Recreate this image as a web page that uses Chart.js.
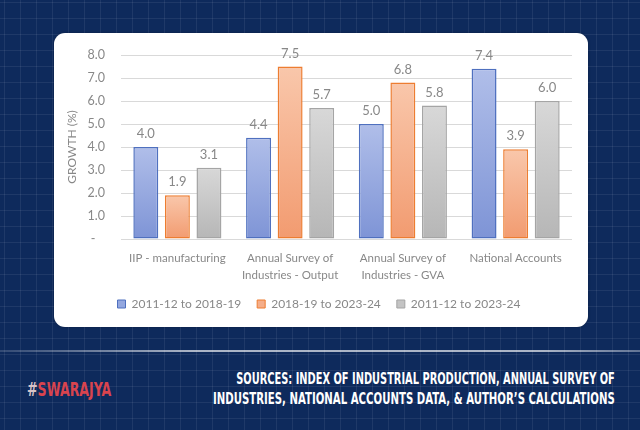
<!DOCTYPE html>
<html>
<head>
<meta charset="utf-8">
<script src="https://cdn.jsdelivr.net/npm/chart.js@4.4.1/dist/chart.umd.min.js"></script>
<style>
  html, body { margin: 0; padding: 0; }
  body { width: 640px; height: 430px; position: relative; overflow: hidden;
    background-color: #0e2a5c;
    background-image:
      linear-gradient(to right, rgba(255,255,255,0.07) 1px, transparent 1px),
      linear-gradient(to bottom, rgba(255,255,255,0.07) 1px, transparent 1px);
    background-size: 16px 16px;
    background-position: 4px 2px;
  }
  #card { position: absolute; left: 54px; top: 33px; width: 534px; height: 294px;
    background: #fff; border-radius: 11px; box-shadow: 0 0 3px rgba(0,0,0,0.3); }
  #rule { position: absolute; left: 0; top: 350px; width: 640px; height: 1.5px;
    background: linear-gradient(to right, rgba(255,255,255,0.15), rgba(255,255,255,0.65) 30%, rgba(255,255,255,0.65) 85%, rgba(255,255,255,0.35)); }
  #brand { position: absolute; left: 27px; top: 378px; font-family: "DejaVu Sans Condensed", "DejaVu Sans", sans-serif;
    font-weight: bold; font-size: 19px; line-height: 22px; color: #d9444e; white-space: nowrap; transform-origin: left center; }
  #brand .hash { color: #d8c3c7; }
  #src { position: absolute; right: 25px; top: 369px; font-family: "DejaVu Sans Condensed", "DejaVu Sans", sans-serif;
    font-weight: bold; font-size: 16px; line-height: 20px; color: #ffffff; text-align: right; }
  #src div { white-space: nowrap; transform-origin: right center; }
  canvas { position: absolute; left: 0; top: 0; }
</style>
</head>
<body>
<div id="card"></div>
<div id="rule"></div>
<div id="brand"><span class="hash">#</span>SWARAJYA</div>
<div id="src">
  <div id="l1">SOURCES: INDEX OF INDUSTRIAL PRODUCTION, ANNUAL SURVEY OF</div>
  <div id="l2">INDUSTRIES, NATIONAL ACCOUNTS DATA, &amp; AUTHOR’S CALCULATIONS</div>
</div>
<canvas id="c" width="640" height="430"></canvas>
<script>
// ---- data ----
const categories = [
  'IIP - manufacturing',
  ['Annual Survey of', 'Industries - Output'],
  ['Annual Survey of', 'Industries - GVA'],
  'National Accounts'
];
const seriesNames = ['2011-12 to 2018-19', '2018-19 to 2023-24', '2011-12 to 2023-24'];
const growth2011to2019 = [4.0, 4.4, 5.0, 7.4];
const growth2019to2024 = [1.9, 7.5, 6.8, 3.9];
const growth2011to2024 = [3.1, 5.7, 5.8, 6.0];
const yAxisTitle = 'GROWTH (%)';
const yMin = 0, yMax = 8, yStep = 1;

// ---- fit footer text widths ----
function fitWidth(el, target) {
  const w = el.scrollWidth;
  el.style.transform = 'scaleX(' + (target / w) + ')';
}
fitWidth(document.getElementById('l1'), 389);
fitWidth(document.getElementById('l2'), 402);
fitWidth(document.getElementById('brand'), 84);

// ---- styles ----
const FONT = 'Lato, "Open Sans", sans-serif';
const TEXT = '#888888';
const styles = [
  { top: '#b0bee9', bottom: '#7e94d6', border: '#4f70bf', legend: '#93a7df' },
  { top: '#f9c7ab', bottom: '#f29b70', border: '#ed7d31', legend: '#f5ae8a' },
  { top: '#d8d8d8', bottom: '#b6b6b6', border: '#a5a5a5', legend: '#c4c4c4' }
];
function grad(st) {
  return (ctx) => {
    const chart = ctx.chart;
    if (!chart.chartArea || ctx.type !== 'data') return st.bottom;
    const y = chart.scales.y;
    const g = chart.ctx.createLinearGradient(0, y.getPixelForValue(ctx.raw), 0, y.getPixelForValue(0));
    g.addColorStop(0, st.top);
    g.addColorStop(1, st.bottom);
    return g;
  };
}
const seriesData = [growth2011to2019, growth2019to2024, growth2011to2024];
const datasets = seriesData.map((d, i) => ({
  label: seriesNames[i],
  data: d,
  backgroundColor: grad(styles[i]),
  borderColor: styles[i].border,
  borderWidth: 1.5,
  borderSkipped: false,
  categoryPercentage: 0.84,
  barPercentage: 0.79
}));

const valueLabels = {
  id: 'valueLabels',
  afterDatasetsDraw(chart) {
    const ctx = chart.ctx;
    ctx.save();
    ctx.font = '13px ' + FONT;
    ctx.fillStyle = TEXT;
    ctx.textAlign = 'center';
    ctx.textBaseline = 'middle';
    chart.data.datasets.forEach((ds, i) => {
      chart.getDatasetMeta(i).data.forEach((bar, j) => {
        ctx.fillText(ds.data[j].toFixed(1), bar.x, bar.y - 13);
      });
    });
    ctx.restore();
  }
};

new Chart(document.getElementById('c'), {
  type: 'bar',
  data: { labels: categories, datasets },
  plugins: [valueLabels],
  options: {
    responsive: false,
    animation: false,
    devicePixelRatio: 1,
    layout: { padding: { left: 54, right: 56, top: 55, bottom: 110 } },
    plugins: {
      tooltip: { enabled: false },
      legend: {
        position: 'bottom',
        labels: {
          boxWidth: 8, boxHeight: 8, padding: 16,
          color: TEXT,
          font: { family: FONT, size: 12 },
          generateLabels: (chart) => chart.data.datasets.map((ds, i) => ({
            text: ds.label, fillStyle: styles[i].legend, strokeStyle: styles[i].border,
            lineWidth: 1, hidden: false, datasetIndex: i, fontColor: TEXT
          }))
        }
      }
    },
    scales: {
      x: {
        grid: { display: false, drawTicks: false },
        border: { display: false },
        ticks: { color: TEXT, padding: 10.5, font: { family: FONT, size: 11.5, lineHeight: 1.48 }, maxRotation: 0, autoSkip: false },
        afterFit: (s) => { s.height = 43; }
      },
      y: {
        min: yMin, max: yMax,
        grid: { color: '#d9d9d9', lineWidth: 1, drawTicks: false },
        border: { display: false },
        ticks: {
          stepSize: yStep, color: TEXT, padding: 16,
          font: { family: FONT, size: 12.5 },
          callback: (v) => v === 0 ? '-   ' : Number(v).toFixed(1)
        },
        title: { display: true, text: yAxisTitle, color: TEXT, font: { family: FONT, size: 12 }, padding: { top: 11, bottom: 0 } },
        afterFit: (s) => { s.width = 67; }
      },
      y2: {
        position: 'right',
        display: true,
        grid: { display: false, drawTicks: false },
        border: { display: false },
        ticks: { display: false },
        afterFit: (s) => { s.width = 12; }
      }
    }
  }
});
</script>
</body>
</html>
